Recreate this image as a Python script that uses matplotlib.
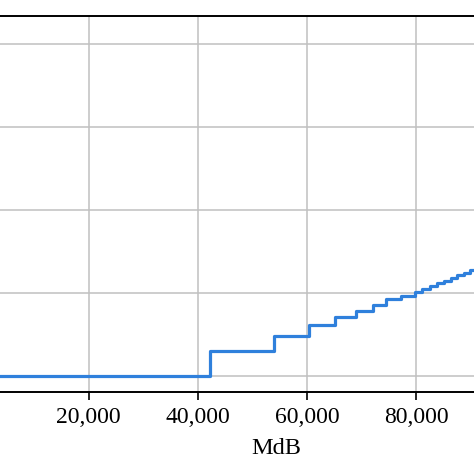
import matplotlib
matplotlib.use("Agg")
import matplotlib.pyplot as plt
from matplotlib.ticker import FuncFormatter

# Data (step function, steps-post)
mdb_x = [0, 42200, 54000, 60400, 65100, 69000, 72100, 74500, 77200, 79800,
         81000, 82500, 83700, 85100, 86300, 87500, 88700, 89800, 91500]
value_y = [0.0, 0.298, 0.479, 0.608, 0.712, 0.785, 0.857, 0.920, 0.962, 1.010,
           1.050, 1.083, 1.115, 1.147, 1.179, 1.212, 1.243, 1.276, 1.276]
x_ticks = [20000, 40000, 60000, 80000]
y_ticks = [0, 1, 2, 3, 4]
x_label = "MdB"

plt.rcParams['font.family'] = ['Liberation Serif', 'DejaVu Serif']

fig = plt.figure(figsize=(4.74, 4.74), dpi=100)
ax = fig.add_axes([-0.1057, 0.173, 1.376, 0.7932])

ax.plot(mdb_x, value_y, drawstyle='steps-post', color='#2f80dc', lw=2.3, zorder=3)

ax.set_xlim(-5430, 114030)
ax.set_ylim(-0.197, 4.342)
ax.set_xticks(x_ticks)
ax.set_yticks(y_ticks)
ax.xaxis.set_major_formatter(FuncFormatter(lambda v, p: f"{int(v):,}"))
ax.grid(True, color='#c0c0c0', lw=1.1, zorder=0)
ax.set_axisbelow(True)
for s in ax.spines.values():
    s.set_linewidth(1.4)
    s.set_color('black')
ax.tick_params(axis='x', direction='out', length=6, width=1.2, labelsize=17, pad=5)
ax.tick_params(axis='y', left=False, labelleft=False)
ax.set_xlabel(x_label, fontsize=17.5, labelpad=7)

fig.savefig("out.png", dpi=100)
